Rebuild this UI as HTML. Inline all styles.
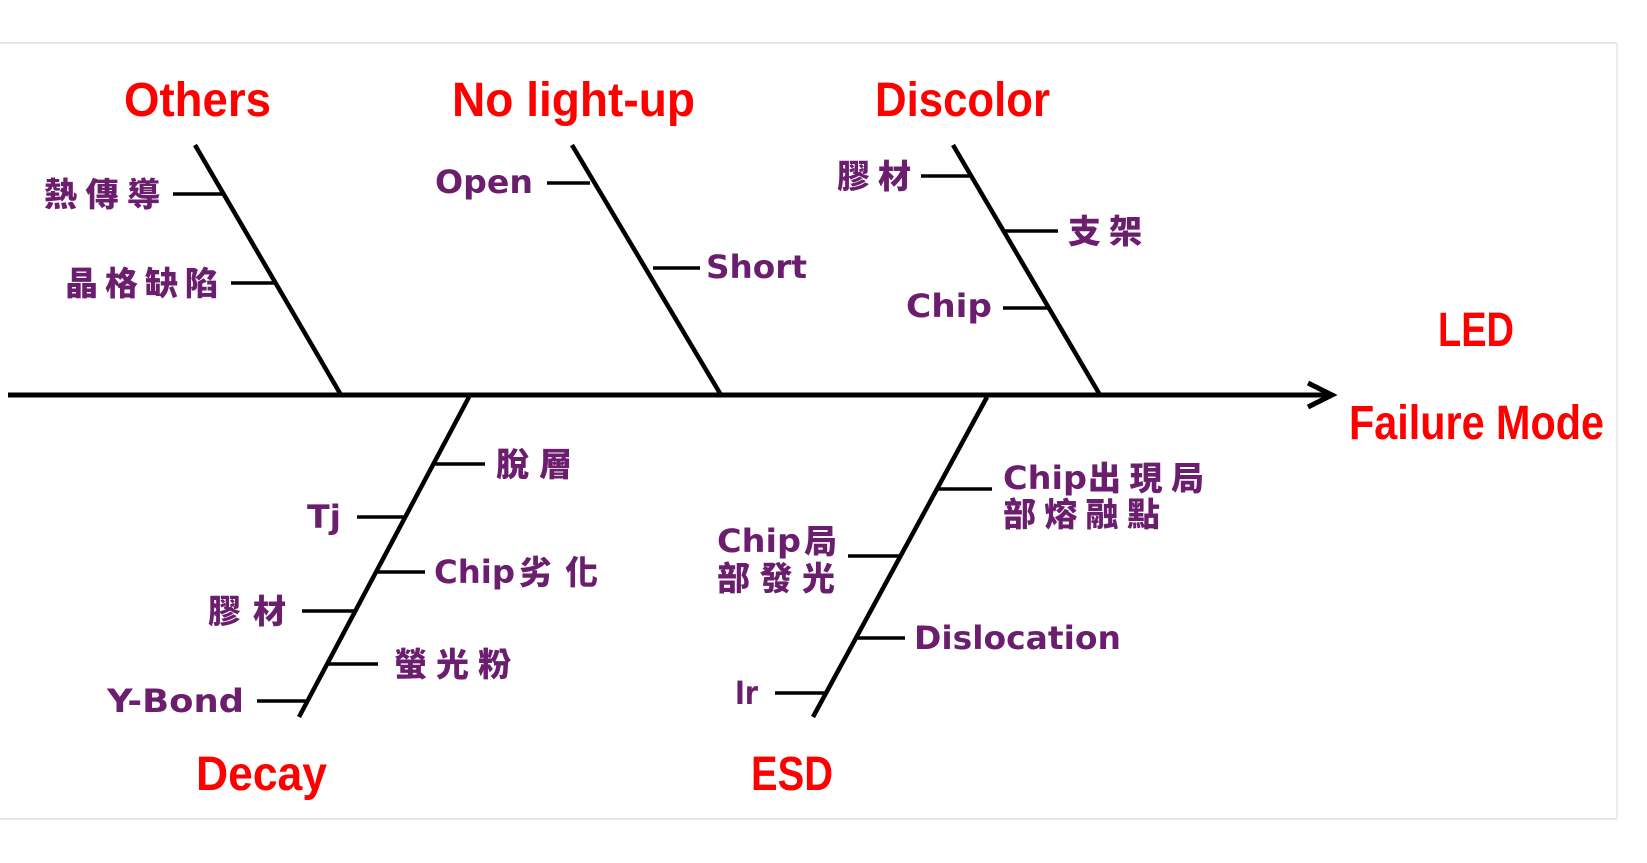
<!DOCTYPE html>
<html>
<head>
<meta charset="utf-8">
<style>
  html, body { margin:0; padding:0; background:#fff; }
  body { width:1647px; height:863px; overflow:hidden; }
  svg { display:block; }
  .red { font-family:"Liberation Sans", sans-serif; font-weight:bold; font-size:48px; fill:#f00; }
  .pl { font-family:"DejaVu Sans", "Noto Sans CJK TC", sans-serif; font-weight:bold; font-size:32px; fill:#6b1d6e; }
  .pc { font-family:"Noto Sans CJK TC", "DejaVu Sans", sans-serif; font-weight:900; font-size:33px; fill:#6b1d6e; }
</style>
</head>
<body>
<svg width="1647" height="863" viewBox="0 0 1647 863" xmlns="http://www.w3.org/2000/svg">
  <rect x="0" y="0" width="1647" height="863" fill="#fff"/>
  <!-- faint frame lines -->
  <line x1="0" y1="43" x2="1617" y2="43" stroke="#e6e6e6" stroke-width="2"/>
  <line x1="0" y1="819" x2="1617" y2="819" stroke="#e6e6e6" stroke-width="2"/>
  <line x1="1617" y1="43" x2="1617" y2="819" stroke="#ececec" stroke-width="2"/>

  <g stroke="#000" stroke-linecap="butt" fill="none">
    <!-- spine -->
    <line x1="8" y1="395" x2="1330" y2="395" stroke-width="5"/>
    <polyline points="1308,383 1332,395 1308,407" stroke-width="5" stroke-linejoin="miter"/>

    <!-- upper bones -->
    <line x1="195" y1="145" x2="341" y2="395" stroke-width="4.5"/>
    <line x1="572" y1="145" x2="721" y2="395" stroke-width="4.5"/>
    <line x1="953" y1="145" x2="1100" y2="395" stroke-width="4.5"/>

    <!-- lower bones -->
    <line x1="469" y1="397" x2="299" y2="717" stroke-width="4.5"/>
    <line x1="987" y1="397" x2="813" y2="717" stroke-width="4.5"/>

    <g stroke-width="3.5">
      <!-- upper ticks -->
      <line x1="173" y1="194" x2="224" y2="194"/>
      <line x1="231" y1="283" x2="276" y2="283"/>
      <line x1="547" y1="183" x2="590" y2="183"/>
      <line x1="653" y1="268" x2="700" y2="268"/>
      <line x1="921" y1="176" x2="972" y2="176"/>
      <line x1="1004" y1="231" x2="1058" y2="231"/>
      <line x1="1003" y1="308" x2="1049" y2="308"/>

      <!-- lower ticks: Decay -->
      <line x1="433" y1="464" x2="485" y2="464"/>
      <line x1="357" y1="517" x2="405" y2="517"/>
      <line x1="376" y1="572" x2="425" y2="572"/>
      <line x1="302" y1="611" x2="355" y2="611"/>
      <line x1="327" y1="664" x2="378" y2="664"/>
      <line x1="257" y1="701" x2="308" y2="701"/>

      <!-- lower ticks: ESD -->
      <line x1="937" y1="489" x2="992" y2="489"/>
      <line x1="848" y1="556" x2="901" y2="556"/>
      <line x1="856" y1="638" x2="905" y2="638"/>
      <line x1="775" y1="693" x2="826" y2="693"/>
    </g>
  </g>

  <!-- red category labels -->
  <text class="red" x="124" y="116" textLength="147" lengthAdjust="spacingAndGlyphs">Others</text>
  <text class="red" x="452" y="116" textLength="243" lengthAdjust="spacingAndGlyphs">No light-up</text>
  <text class="red" x="875" y="116" textLength="175" lengthAdjust="spacingAndGlyphs">Discolor</text>
  <text class="red" x="1438" y="346" textLength="76" lengthAdjust="spacingAndGlyphs">LED</text>
  <text class="red" x="1349" y="439" textLength="255" lengthAdjust="spacingAndGlyphs">Failure Mode</text>
  <text class="red" x="196" y="790" textLength="131" lengthAdjust="spacingAndGlyphs">Decay</text>
  <text class="red" x="751" y="790" textLength="82" lengthAdjust="spacingAndGlyphs">ESD</text>

  <!-- purple cause labels: upper -->
  <text class="pc" x="44" y="206" textLength="116" lengthAdjust="spacing">熱傳導</text>
  <text class="pc" x="65" y="295" textLength="153" lengthAdjust="spacing">晶格缺陷</text>
  <text class="pl" x="435" y="193" textLength="98" lengthAdjust="spacingAndGlyphs">Open</text>
  <text class="pl" x="706" y="278" textLength="101" lengthAdjust="spacingAndGlyphs">Short</text>
  <text class="pc" x="837" y="188" textLength="74" lengthAdjust="spacing">膠材</text>
  <text class="pc" x="1068" y="243" textLength="74" lengthAdjust="spacing">支架</text>
  <text class="pl" x="906" y="317" textLength="86" lengthAdjust="spacingAndGlyphs">Chip</text>

  <!-- purple cause labels: Decay -->
  <text class="pc" x="496" y="476" textLength="76" lengthAdjust="spacing">脫層</text>
  <text class="pl" x="307" y="528" textLength="34" lengthAdjust="spacingAndGlyphs">Tj</text>
  <text class="pl" x="434" y="583" textLength="81" lengthAdjust="spacingAndGlyphs">Chip</text>
  <text class="pc" x="519" y="584" textLength="79" lengthAdjust="spacing">劣化</text>
  <text class="pc" x="208" y="623" textLength="78" lengthAdjust="spacing">膠材</text>
  <text class="pc" x="394" y="676" textLength="117" lengthAdjust="spacing">螢光粉</text>
  <text class="pl" x="107" y="712" textLength="137" lengthAdjust="spacingAndGlyphs">Y-Bond</text>

  <!-- purple cause labels: ESD -->
  <text class="pl" x="1003" y="489" textLength="84" lengthAdjust="spacingAndGlyphs">Chip</text>
  <text class="pc" x="1088" y="490" textLength="116" lengthAdjust="spacing">出現局</text>
  <text class="pc" x="1003" y="526" textLength="157" lengthAdjust="spacing">部熔融點</text>
  <text class="pl" x="717" y="552" textLength="84" lengthAdjust="spacingAndGlyphs">Chip</text>
  <text class="pc" x="804" y="553" textLength="36" lengthAdjust="spacing">局</text>
  <text class="pc" x="717" y="590" textLength="118" lengthAdjust="spacing">部發光</text>
  <text class="pl" x="914" y="649" textLength="207" lengthAdjust="spacingAndGlyphs">Dislocation</text>
  <text class="pl" x="735" y="704" textLength="23" lengthAdjust="spacingAndGlyphs">Ir</text>
</svg>
</body>
</html>
